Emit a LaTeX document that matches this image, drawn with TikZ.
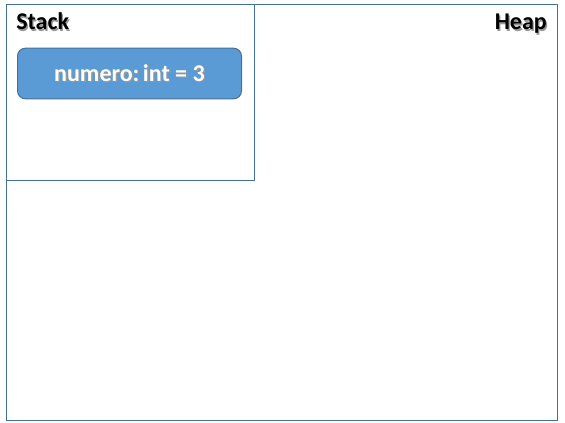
\documentclass[tikz,border=0pt]{standalone}
\usepackage{fontspec}
\setmainfont{Carlito}
\definecolor{boxline}{RGB}{65,113,156}
\definecolor{boxfill}{RGB}{91,155,213}
\newcommand\shtext[1]{\makebox[0pt][l]{\hspace{1pt}\raisebox{-1pt}{\textcolor{black!40}{#1}}}#1}
\tikzset{
  frame/.style={draw=boxline, line width=0.75pt},
  var/.style={fill=boxfill, draw=boxline, line width=0.75pt, rounded corners=6pt,
    minimum width=168pt, minimum height=38pt, text=white, font=\fontsize{18}{20}\selectfont\bfseries},
  title/.style={inner sep=0pt, font=\fontsize{18}{20}\selectfont\bfseries}
}
\begin{document}
\begin{tikzpicture}[x=0.75pt, y=-0.75pt]
            \useasboundingbox (0,0) rectangle (565,423);
            \draw[frame] (6,5) rectangle (557,421);
            \draw[frame] (6,5) rectangle (254,181);
            \node[var] (numero) at (129.5,73.5) {\shtext{numero:\hspace{0.15em}int = 3}};
            \node[title, anchor=base west] (stack) at (16,30) {\shtext{Stack}};
            \node[title, anchor=base east] (heap) at (547,30) {\shtext{Heap}};
        \end{tikzpicture}
\end{document}
